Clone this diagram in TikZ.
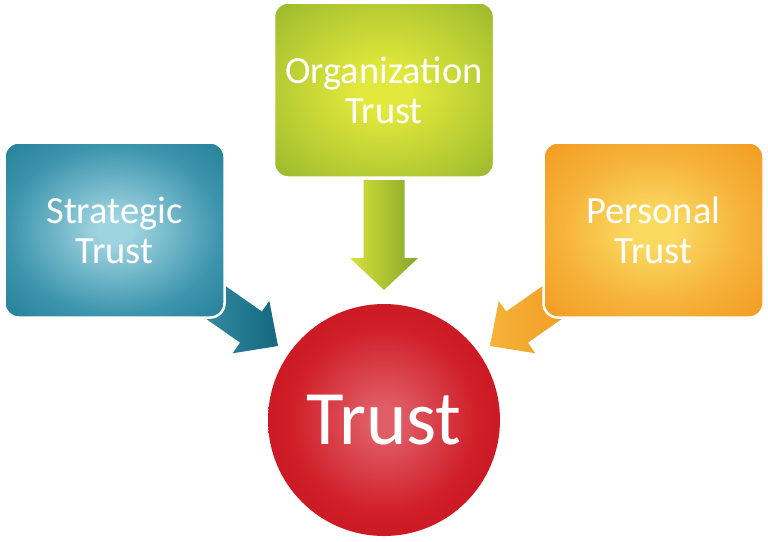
\documentclass[tikz,border=0pt]{standalone}
\usepackage{fontspec}
\setmainfont{Carlito}
\definecolor{blueC}{HTML}{9ED3E0}
\definecolor{blueM}{HTML}{3D95AD}
\definecolor{blueE}{HTML}{16748D}
\definecolor{greenC}{HTML}{E2E83C}
\definecolor{greenM}{HTML}{B2C932}
\definecolor{greenE}{HTML}{84A72A}
\definecolor{orangeC}{HTML}{FAD960}
\definecolor{orangeM}{HTML}{F6B23A}
\definecolor{orangeE}{HTML}{F2971C}
\definecolor{redC}{HTML}{E05E67}
\definecolor{redM}{HTML}{D01F29}
\definecolor{redE}{HTML}{C50F19}
\pgfdeclareradialshading{blueglow}{\pgfpoint{0bp}{0bp}}{color(0bp)=(blueC); color(4bp)=(blueC); color(24bp)=(blueM); color(42bp)=(blueE); color(72bp)=(blueE)}
\pgfdeclareradialshading{greenglow}{\pgfpoint{0bp}{0bp}}{color(0bp)=(greenC); color(6bp)=(greenC); color(26bp)=(greenM); color(44bp)=(greenE); color(72bp)=(greenE)}
\pgfdeclareradialshading{orangeglow}{\pgfpoint{0bp}{0bp}}{color(0bp)=(orangeC); color(5bp)=(orangeC); color(21bp)=(orangeM); color(38bp)=(orangeE); color(72bp)=(orangeE)}
\pgfdeclareradialshading{redglow}{\pgfpoint{0bp}{0bp}}{color(0bp)=(redC); color(3bp)=(redC); color(20bp)=(redM); color(36bp)=(redE); color(50bp)=(redE)}
\begin{document}
\begin{tikzpicture}[x=1pt,y=-1pt,
  box/.style={rounded corners=14pt, minimum width=220pt, minimum height=175pt,
    inner sep=0pt, draw=white, line width=2.5pt, text=white,
    font=\fontsize{38.5}{40}\selectfont, align=center},
  ball/.style={circle, minimum size=232pt, inner sep=0pt, shading=redglow,
    text=white, font=\fontsize{77}{80}\selectfont}]
\useasboundingbox[fill=white] (0,0) rectangle (768,541);
% arrow tips
\coordinate (tipS) at (278,346);
\coordinate (tipO) at (384,290);
\coordinate (tipP) at (490,346);
% arrows (drawn first, boxes cover their tails)
\begin{scope}[shift={(tipS)}, rotate=-35]
  \path[left color=blueM, right color=blueE!90!black] (0,0) -- (-33,32) -- (-33,19) -- (-105,19) -- (-105,-19) -- (-33,-19) -- (-33,-32) -- cycle;
\end{scope}
\begin{scope}[shift={(tipP)}, rotate=215]
  \path[left color=orangeM, right color=orangeE] (0,0) -- (-33,32) -- (-33,19) -- (-105,19) -- (-105,-19) -- (-33,-19) -- (-33,-32) -- cycle;
\end{scope}
\begin{scope}[shift={(tipO)}, rotate=-90]
  \path[left color=greenC!80!greenM, right color=greenE] (0,0) -- (-32,34) -- (-32,20.5) -- (-110,20.5) -- (-110,-20.5) -- (-32,-20.5) -- (-32,-34) -- cycle;
\end{scope}
% boxes
\node[box, shading=blueglow] (strat) at (114.5,230) {Strategic\\Trust};
\node[box, shading=greenglow] (org) at (384,90) {Organization\\Trust};
\node[box, shading=orangeglow] (pers) at (653.5,230) {Personal\\Trust};
\node[ball] (trust) at (384,420) {Trust};
\end{tikzpicture}
\end{document}
